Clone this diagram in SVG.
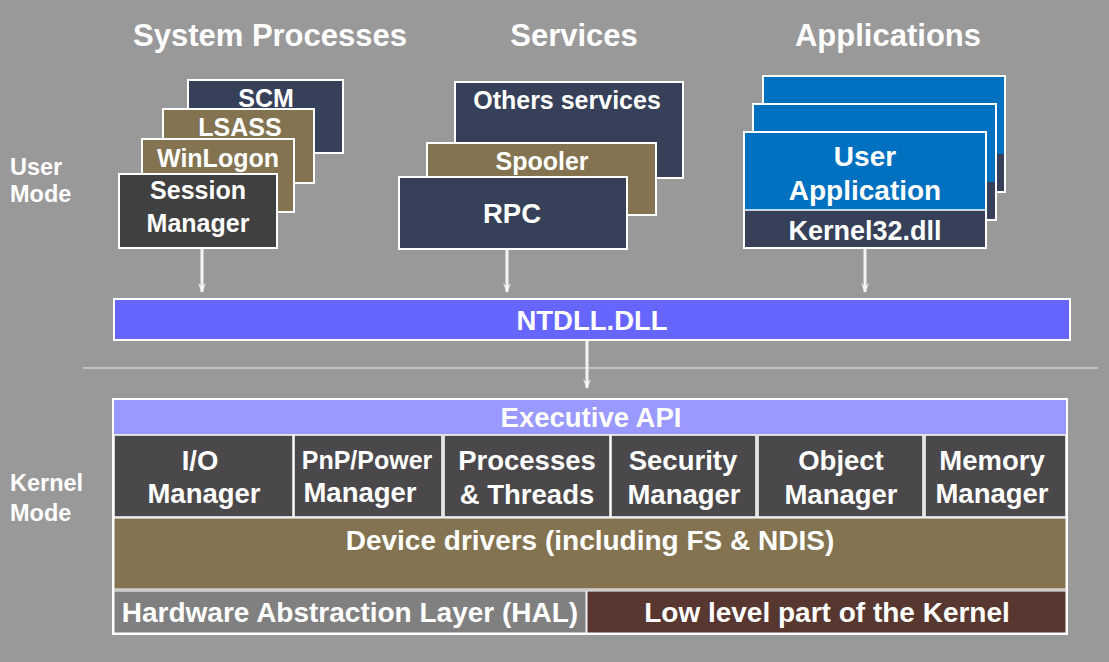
<svg xmlns="http://www.w3.org/2000/svg" width="1109" height="662" viewBox="0 0 1109 662">
<defs>
<style>
.t{font-family:"Liberation Sans",Arial,sans-serif;font-weight:bold;fill:#fff;text-anchor:middle}
.b{stroke:#fff;stroke-width:2}
.navy{fill:#364058}
.olive{fill:#837350}
.dark{fill:#404040}
.blue{fill:#0070C0}
.mgr{fill:#4A484A;stroke:#fff;stroke-width:1.5}
.side{font-family:"Liberation Sans",Arial,sans-serif;font-weight:bold;fill:#fff;font-size:23.5px}
.conn{stroke:#f4f4f4;stroke-width:3;fill:none;marker-end:url(#ah)}
</style>
<marker id="ah" markerWidth="12" markerHeight="10" refX="10" refY="5" orient="auto" markerUnits="userSpaceOnUse" viewBox="0 0 12 10">
<path d="M1,1 L11,5 L1,9 L5,5 Z" fill="#f4f4f4"/>
</marker>
</defs>
<rect width="1109" height="662" fill="#999999"/>

<g id="headings">
<text class="t" x="270" y="46" font-size="31">System Processes</text>
<text class="t" x="574" y="46" font-size="31">Services</text>
<text class="t" x="888" y="46" font-size="31">Applications</text>
</g>
<g id="mode-labels">
<text class="side" x="10" y="175">User</text>
<text class="side" x="10" y="202">Mode</text>
<text class="side" x="10" y="491">Kernel</text>
<text class="side" x="10" y="521">Mode</text>
</g>

<g id="scm"><rect class="navy b" x="188" y="80" width="155" height="73"/><text class="t" x="266" y="107" font-size="25">SCM</text></g>
<g id="lsass"><rect class="olive b" x="163" y="109" width="151" height="74"/><text class="t" x="240" y="136" font-size="25">LSASS</text></g>
<g id="winlogon"><rect class="olive b" x="142" y="139" width="152" height="73"/><text class="t" x="218" y="167" font-size="25">WinLogon</text></g>
<g id="session-manager"><rect class="dark b" x="119" y="174" width="158" height="74"/><text class="t" x="198" y="199" font-size="25">Session</text><text class="t" x="198" y="232" font-size="25">Manager</text></g>

<g id="others-services"><rect class="navy b" x="455" y="82" width="228" height="96"/><text class="t" x="567" y="109" font-size="25">Others services</text></g>
<g id="spooler"><rect class="olive b" x="427" y="143" width="229" height="72"/><text class="t" x="542" y="170" font-size="25">Spooler</text></g>
<g id="rpc"><rect class="navy b" x="399" y="177" width="228" height="72"/><text class="t" x="512" y="223" font-size="27.5">RPC</text></g>

<g id="app-back"><rect class="blue" x="763" y="76" width="242" height="78"/><rect class="navy" x="763" y="154" width="242" height="38"/><rect x="763" y="76" width="242" height="116" fill="none" stroke="#fff" stroke-width="2"/></g>
<g id="app-mid"><rect class="blue" x="753" y="104" width="243" height="78"/><rect class="navy" x="753" y="182" width="243" height="38"/><rect x="753" y="104" width="243" height="116" fill="none" stroke="#fff" stroke-width="2"/></g>
<g id="user-application"><rect class="blue" x="744" y="132" width="242" height="78"/><rect class="navy" x="744" y="210" width="242" height="38"/><rect x="744" y="132" width="242" height="116" fill="none" stroke="#fff" stroke-width="2"/><line x1="744" y1="210" x2="986" y2="210" stroke="#fff" stroke-width="1.5"/>
<text class="t" x="865" y="166" font-size="28">User</text><text class="t" x="865" y="200" font-size="28">Application</text><text class="t" x="865" y="240" font-size="27">Kernel32.dll</text></g>

<g id="ntdll"><rect x="114" y="299" width="956" height="41" fill="#6666FF" stroke="#fff" stroke-width="2"/><text class="t" x="592" y="330" font-size="27.5">NTDLL.DLL</text></g>

<line x1="83" y1="368" x2="1098" y2="368" stroke="#e8e8e8" stroke-width="1"/>

<g id="kernel">
<rect x="113" y="399" width="954" height="235" fill="none" stroke="#fff" stroke-width="2"/>
<g id="executive-api"><rect x="114" y="400" width="952" height="34" fill="#9999FF"/><text class="t" x="591" y="427" font-size="27.5">Executive API</text></g>
<g id="io-manager"><rect class="mgr" x="114" y="435" width="179" height="82"/><text class="t" x="200" y="470" font-size="27.5">I/O</text><text class="t" x="204" y="503" font-size="27.5">Manager</text></g>
<g id="pnp-manager"><rect class="mgr" x="294" y="435" width="148" height="82"/><text class="t" x="367" y="469" font-size="25">PnP/Power</text><text class="t" x="360" y="502" font-size="27.5">Manager</text></g>
<g id="processes-threads"><rect class="mgr" x="444" y="435" width="166" height="82"/><text class="t" x="527" y="470" font-size="27.5">Processes</text><text class="t" x="527" y="504" font-size="27.5">&amp; Threads</text></g>
<g id="security-manager"><rect class="mgr" x="611" y="435" width="145" height="82"/><text class="t" x="683" y="470" font-size="27.5">Security</text><text class="t" x="684" y="504" font-size="27.5">Manager</text></g>
<g id="object-manager"><rect class="mgr" x="758" y="435" width="165" height="82"/><text class="t" x="841" y="470" font-size="27.5">Object</text><text class="t" x="841" y="504" font-size="27.5">Manager</text></g>
<g id="memory-manager"><rect class="mgr" x="925" y="435" width="141" height="82"/><text class="t" x="992" y="470" font-size="27.5">Memory</text><text class="t" x="992" y="503" font-size="27.5">Manager</text></g>
<g id="device-drivers"><rect x="114" y="518" width="952" height="71" fill="#837350" stroke="#fff" stroke-width="1"/><text class="t" x="590" y="550" font-size="28">Device drivers (including FS &amp; NDIS)</text></g>
<g id="hal"><rect x="114" y="591" width="472" height="42" fill="#808080" stroke="#fff" stroke-width="1"/><text class="t" x="350" y="622" font-size="28">Hardware Abstraction Layer (HAL)</text></g>
<g id="low-level-kernel"><rect x="587" y="591" width="479" height="42" fill="#573730" stroke="#fff" stroke-width="1"/><text class="t" x="827" y="622" font-size="28">Low level part of the Kernel</text></g>
</g>

<g id="connectors">
<line class="conn" x1="202" y1="249" x2="202" y2="292"/>
<line class="conn" x1="507" y1="250" x2="507" y2="292"/>
<line class="conn" x1="865" y1="249" x2="865" y2="292"/>
<line class="conn" x1="587" y1="341" x2="587" y2="388"/>
</g>
</svg>
